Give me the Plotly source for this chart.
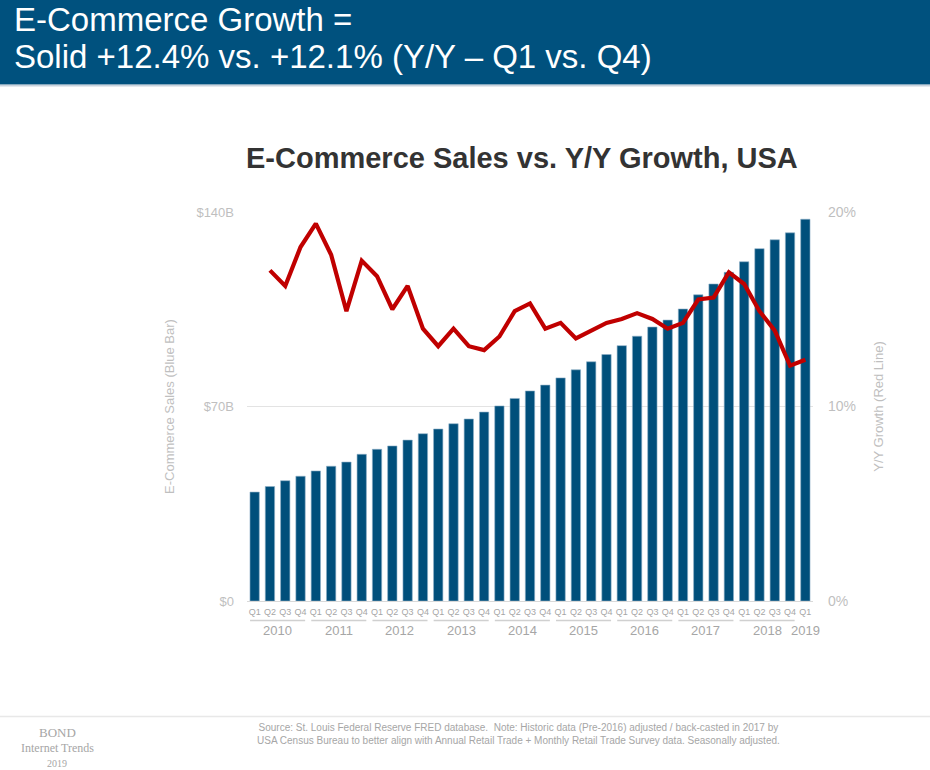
import plotly.graph_objects as go

years = ["2010", "2011", "2012", "2013", "2014", "2015", "2016", "2017", "2018", "2019"]
quarters = ["Q1", "Q2", "Q3", "Q4"]
periods = [(y, q) for y in years for q in quarters][:37]
q_labels = [q for _, q in periods]

sales_b = [39.2, 41.2, 43.3, 44.9, 46.8, 48.5, 50.0, 52.8, 54.6, 55.8, 57.9, 60.2,
           61.9, 63.8, 65.5, 68.0, 70.2, 72.9, 75.6, 77.7, 80.3, 83.2, 86.1, 88.7,
           91.9, 95.3, 98.6, 101.1, 105.1, 110.2, 114.1, 118.3, 122.1, 126.8, 130.0,
           132.5, 137.4]
growth_pct = [None, 17.0, 16.2, 18.2, 19.4, 17.8, 14.9, 17.5, 16.7, 15.0, 16.2, 14.0,
              13.1, 14.0, 13.1, 12.9, 13.6, 14.9, 15.3, 14.0, 14.3, 13.5, 13.9, 14.3,
              14.5, 14.8, 14.5, 14.0, 14.3, 15.5, 15.6, 16.9, 16.3, 14.9, 13.9,
              12.1, 12.4]

left_ticks = [0, 70, 140]
left_text = ["$0", "$70B", "$140B"]
right_ticks = [0, 10, 20]
right_text = ["0%", "10%", "20%"]

header_lines = ["E-Commerce Growth =", "Solid +12.4% vs. +12.1% (Y/Y – Q1 vs. Q4)"]

idx = list(range(len(periods)))
GRAY = "#A6A6A6"

fig = go.Figure()
fig.add_trace(go.Bar(x=idx, y=sales_b, marker=dict(color="#004F7B", line=dict(color="#8FB0C8", width=0.6)),
                     yaxis="y", showlegend=False))
fig.add_trace(go.Scatter(x=idx, y=growth_pct, mode="lines", line=dict(color="#C00000", width=4.2),
                         yaxis="y2", showlegend=False, connectgaps=False))

fig.update_layout(
    width=930, height=770,
    margin=dict(l=247, r=117, t=212, b=169),
    paper_bgcolor="white", plot_bgcolor="white",
    font=dict(family="Liberation Sans, Arial, sans-serif", color=GRAY),
    bargap=0.39,
    xaxis=dict(tickmode="array", tickvals=idx, ticktext=q_labels, range=[-0.5, len(idx) - 0.5],
               tickfont=dict(size=9, color=GRAY), showgrid=False, zeroline=False,
               showline=True, linecolor="#D9D9D9", linewidth=1, ticks="", ticklabelstandoff=2),
    yaxis=dict(range=[0, 140], tickmode="array", tickvals=left_ticks, ticktext=left_text,
               tickfont=dict(size=13, color="#BFBFBF"), showgrid=True, gridcolor="#E3E3E3",
               zeroline=False, ticklabelstandoff=12,
               title=dict(text="E-Commerce Sales (Blue Bar)", font=dict(size=13, color="#BFBFBF"), standoff=18)),
    yaxis2=dict(range=[0, 20], overlaying="y", side="right", tickmode="array", tickvals=right_ticks,
                ticktext=right_text, tickfont=dict(size=14, color="#BFBFBF"), showgrid=False,
                zeroline=False, ticklabelstandoff=14,
                title=dict(text="Y/Y Growth (Red Line)", font=dict(size=13, color="#BFBFBF"), standoff=18)),
)

shapes = []
annotations = []
# header band
shapes.append(dict(type="rect", xref="paper", yref="paper", x0=-0.6, x1=1.3, y0=1.327, y1=1.9,
                   fillcolor="#00517E", line=dict(width=0), layer="below"))
shapes.append(dict(type="line", xref="paper", yref="paper", x0=-0.6, x1=1.3, y0=1.325, y1=1.325,
                   line=dict(color="#C9D3DD", width=2)))
# footer line
shapes.append(dict(type="line", xref="paper", yref="paper", x0=-0.7, x1=1.3, y0=-0.297, y1=-0.297,
                   line=dict(color="#E8E8E8", width=1.5)))

for line_text, ypos in zip(header_lines, [1.4951, 1.3999]):
    annotations.append(dict(text=line_text, xref="paper", yref="paper", x=-0.416, y=ypos,
                            xanchor="left", yanchor="middle", align="left", showarrow=False,
                            font=dict(size=33, color="white", family="Liberation Sans, Arial")))
annotations.append(dict(text="<b>E-Commerce Sales vs. Y/Y Growth, USA</b>", xref="paper", yref="paper",
                        x=0.486, y=1.14, xanchor="center", yanchor="middle", showarrow=False,
                        font=dict(size=29, color="#333333", family="Liberation Sans, Arial")))

# year groups
for y in years:
    members = [i for i, (yy, _) in enumerate(periods) if yy == y]
    if not members:
        continue
    x0, x1 = members[0], members[-1]
    if len(members) > 1:
        shapes.append(dict(type="line", xref="x", yref="paper", x0=x0 - 0.3, x1=x1 + 0.3,
                           y0=-0.05, y1=-0.05, line=dict(color="#D0D0D0", width=1.5)))
    annotations.append(dict(text=y, xref="x", yref="paper", x=(x0 + x1) / 2, y=-0.075,
                            xanchor="center", yanchor="middle", showarrow=False,
                            font=dict(size=13, color=GRAY)))

# footer texts
annotations.append(dict(text="BOND", xref="paper", yref="paper", x=-0.335, y=-0.338, xanchor="center",
                        yanchor="middle", showarrow=False,
                        font=dict(size=13, color="#A6A6A6", family="Liberation Serif, DejaVu Serif")))
annotations.append(dict(text="Internet Trends", xref="paper", yref="paper", x=-0.335, y=-0.377,
                        xanchor="center", yanchor="middle", showarrow=False,
                        font=dict(size=12, color="#A6A6A6", family="Liberation Serif, DejaVu Serif")))
annotations.append(dict(text="2019", xref="paper", yref="paper", x=-0.335, y=-0.418, xanchor="center",
                        yanchor="middle", showarrow=False,
                        font=dict(size=10, color="#A6A6A6", family="Liberation Serif, DejaVu Serif")))
annotations.append(dict(text="Source: St. Louis Federal Reserve FRED database.  Note: Historic data (Pre-2016) adjusted / back-casted in 2017 by<br>"
                             "USA Census Bureau to better align with Annual Retail Trade + Monthly Retail Trade Survey data. Seasonally adjusted.",
                        xref="paper", yref="paper", x=0.479, y=-0.307, xanchor="center", yanchor="top",
                        align="center", showarrow=False,
                        font=dict(size=10, color="#A6A6A6", family="Liberation Sans, Arial")))

fig.update_layout(shapes=shapes, annotations=annotations)
fig.write_html("out.html")
